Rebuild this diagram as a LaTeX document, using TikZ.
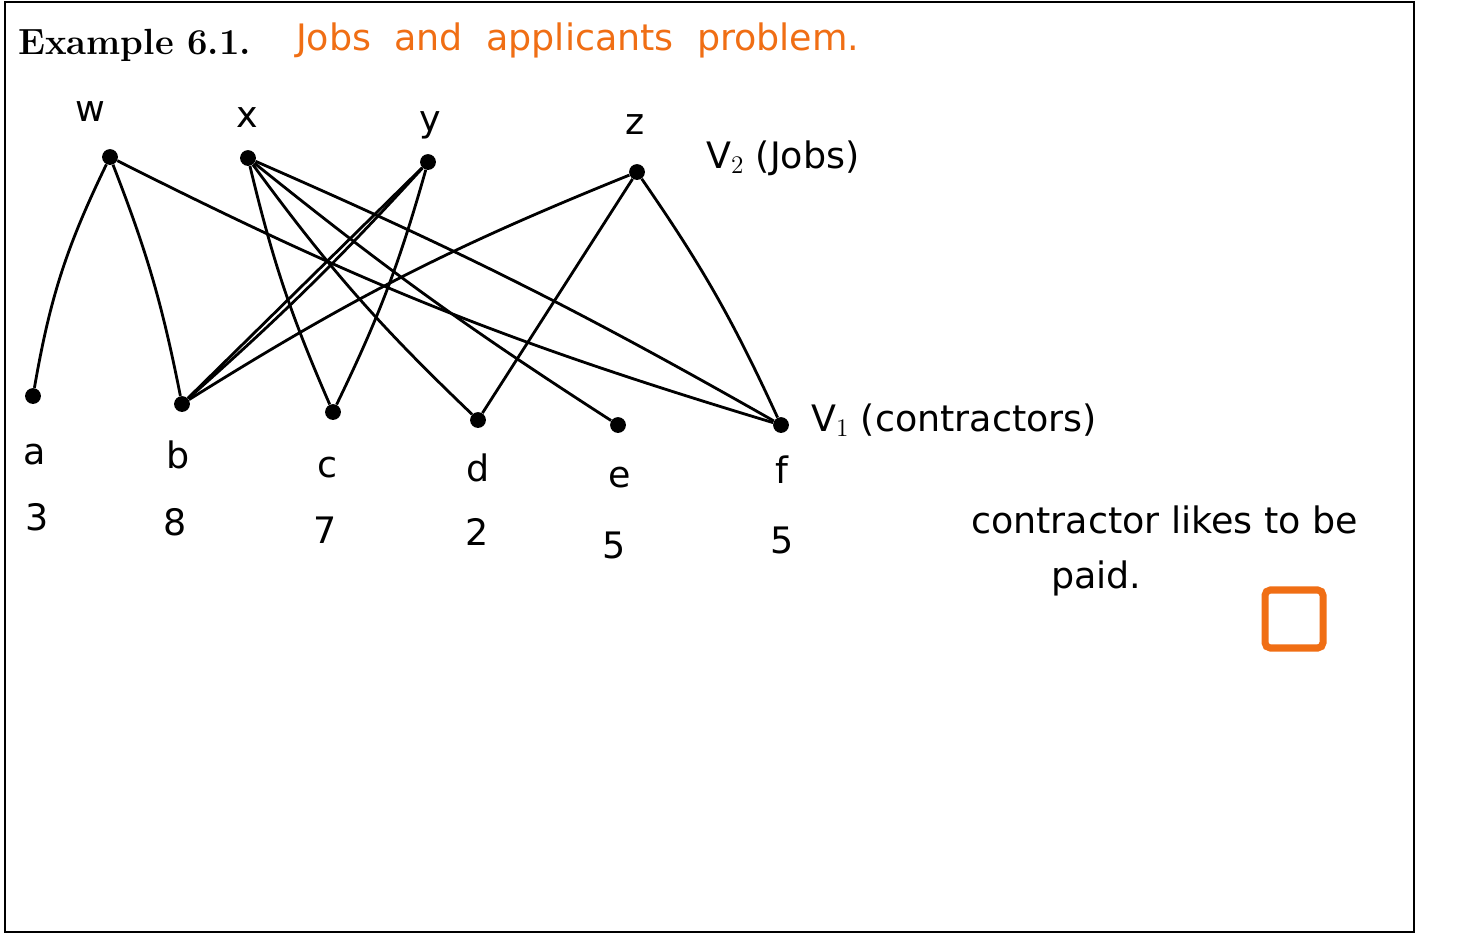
\documentclass[tikz,border=0pt]{standalone}
\usepackage{fontspec}
\newfontfamily\hand{DejaVu Sans}
\definecolor{org}{RGB}{240,110,20}
\begin{document}
\begin{tikzpicture}[x=0.02cm,y=-0.02cm,
  vtx/.style={circle,fill=black,inner sep=0pt,minimum size=9pt},
  edge/.style={line width=1.6pt,black},
  lab/.style={font=\hand\huge},
  olab/.style={font=\hand\huge,text=org}]
\useasboundingbox (0,0) rectangle (1457,934);
\fill[white] (0,0) rectangle (1457,934);
\draw[line width=0.6pt] (5,2) rectangle (1414,932);
\node[anchor=west,font=\bfseries\huge] (title) at (12,45) {Example 6.1.};
\node[anchor=west,olab] (sub) at (290,40) {Jobs \ and \ applicants \ problem.};
\node[vtx] (w) at (110,157) {};
\node[vtx] (x) at (248,158) {};
\node[vtx] (y) at (428,162) {};
\node[vtx] (z) at (637,172) {};
\node[vtx] (a) at (33,396) {};
\node[vtx] (b) at (182,404) {};
\node[vtx] (c) at (333,412) {};
\node[vtx] (d) at (478,420) {};
\node[vtx] (e) at (618,425) {};
\node[vtx] (f) at (781,425) {};
\draw[edge] (w) to[bend right=8] (a);
\draw[edge] (w) to[bend left=5] (b);
\draw[edge] (w) to[bend right=5] (f);
\draw[edge] (x) to[bend right=5] (c);
\draw[edge] (x) to[bend right=5] (d);
\draw[edge] (x) to[bend right=3] (e);
\draw[edge] (x) to[bend left=3] (f);
\draw[edge] (y) to (b);
\draw[edge] (y) to[bend left=3] (b);
\draw[edge] (y) to[bend left=5] (c);
\draw[edge] (z) to[bend right=5] (b);
\draw[edge] (z) to (d);
\draw[edge] (z) to[bend left=5] (f);
\node[lab] (lw) at (90,112) {w};
\node[lab] (lx) at (247,118) {x};
\node[lab] (ly) at (430,125) {y};
\node[lab] (lz) at (635,125) {z};
\node[lab,anchor=west] (v2) at (700,158) {V$_2$ (Jobs)};
\node[lab] (la) at (35,455) {a};
\node[lab] (lb) at (178,455) {b};
\node[lab] (lc) at (328,468) {c};
\node[lab] (ld) at (478,468) {d};
\node[lab] (le) at (620,478) {e};
\node[lab] (lf) at (782,470) {f};
\node[lab] (na) at (37,517) {3};
\node[lab] (nb) at (175,522) {8};
\node[lab] (nc) at (325,530) {7};
\node[lab] (nd) at (477,532) {2};
\node[lab] (ne) at (614,545) {5};
\node[lab] (nf) at (782,540) {5};
\node[lab,anchor=west] (v1) at (805,420) {V$_1$ (contractors)};
\node[lab,anchor=west] (t1) at (965,520) {contractor likes to be};
\node[lab,anchor=west] (t2) at (1045,578) {paid.};
\draw[org,line width=4pt,rounded corners=3pt] (1265,590) rectangle (1323,648);
\end{tikzpicture}
\end{document}
